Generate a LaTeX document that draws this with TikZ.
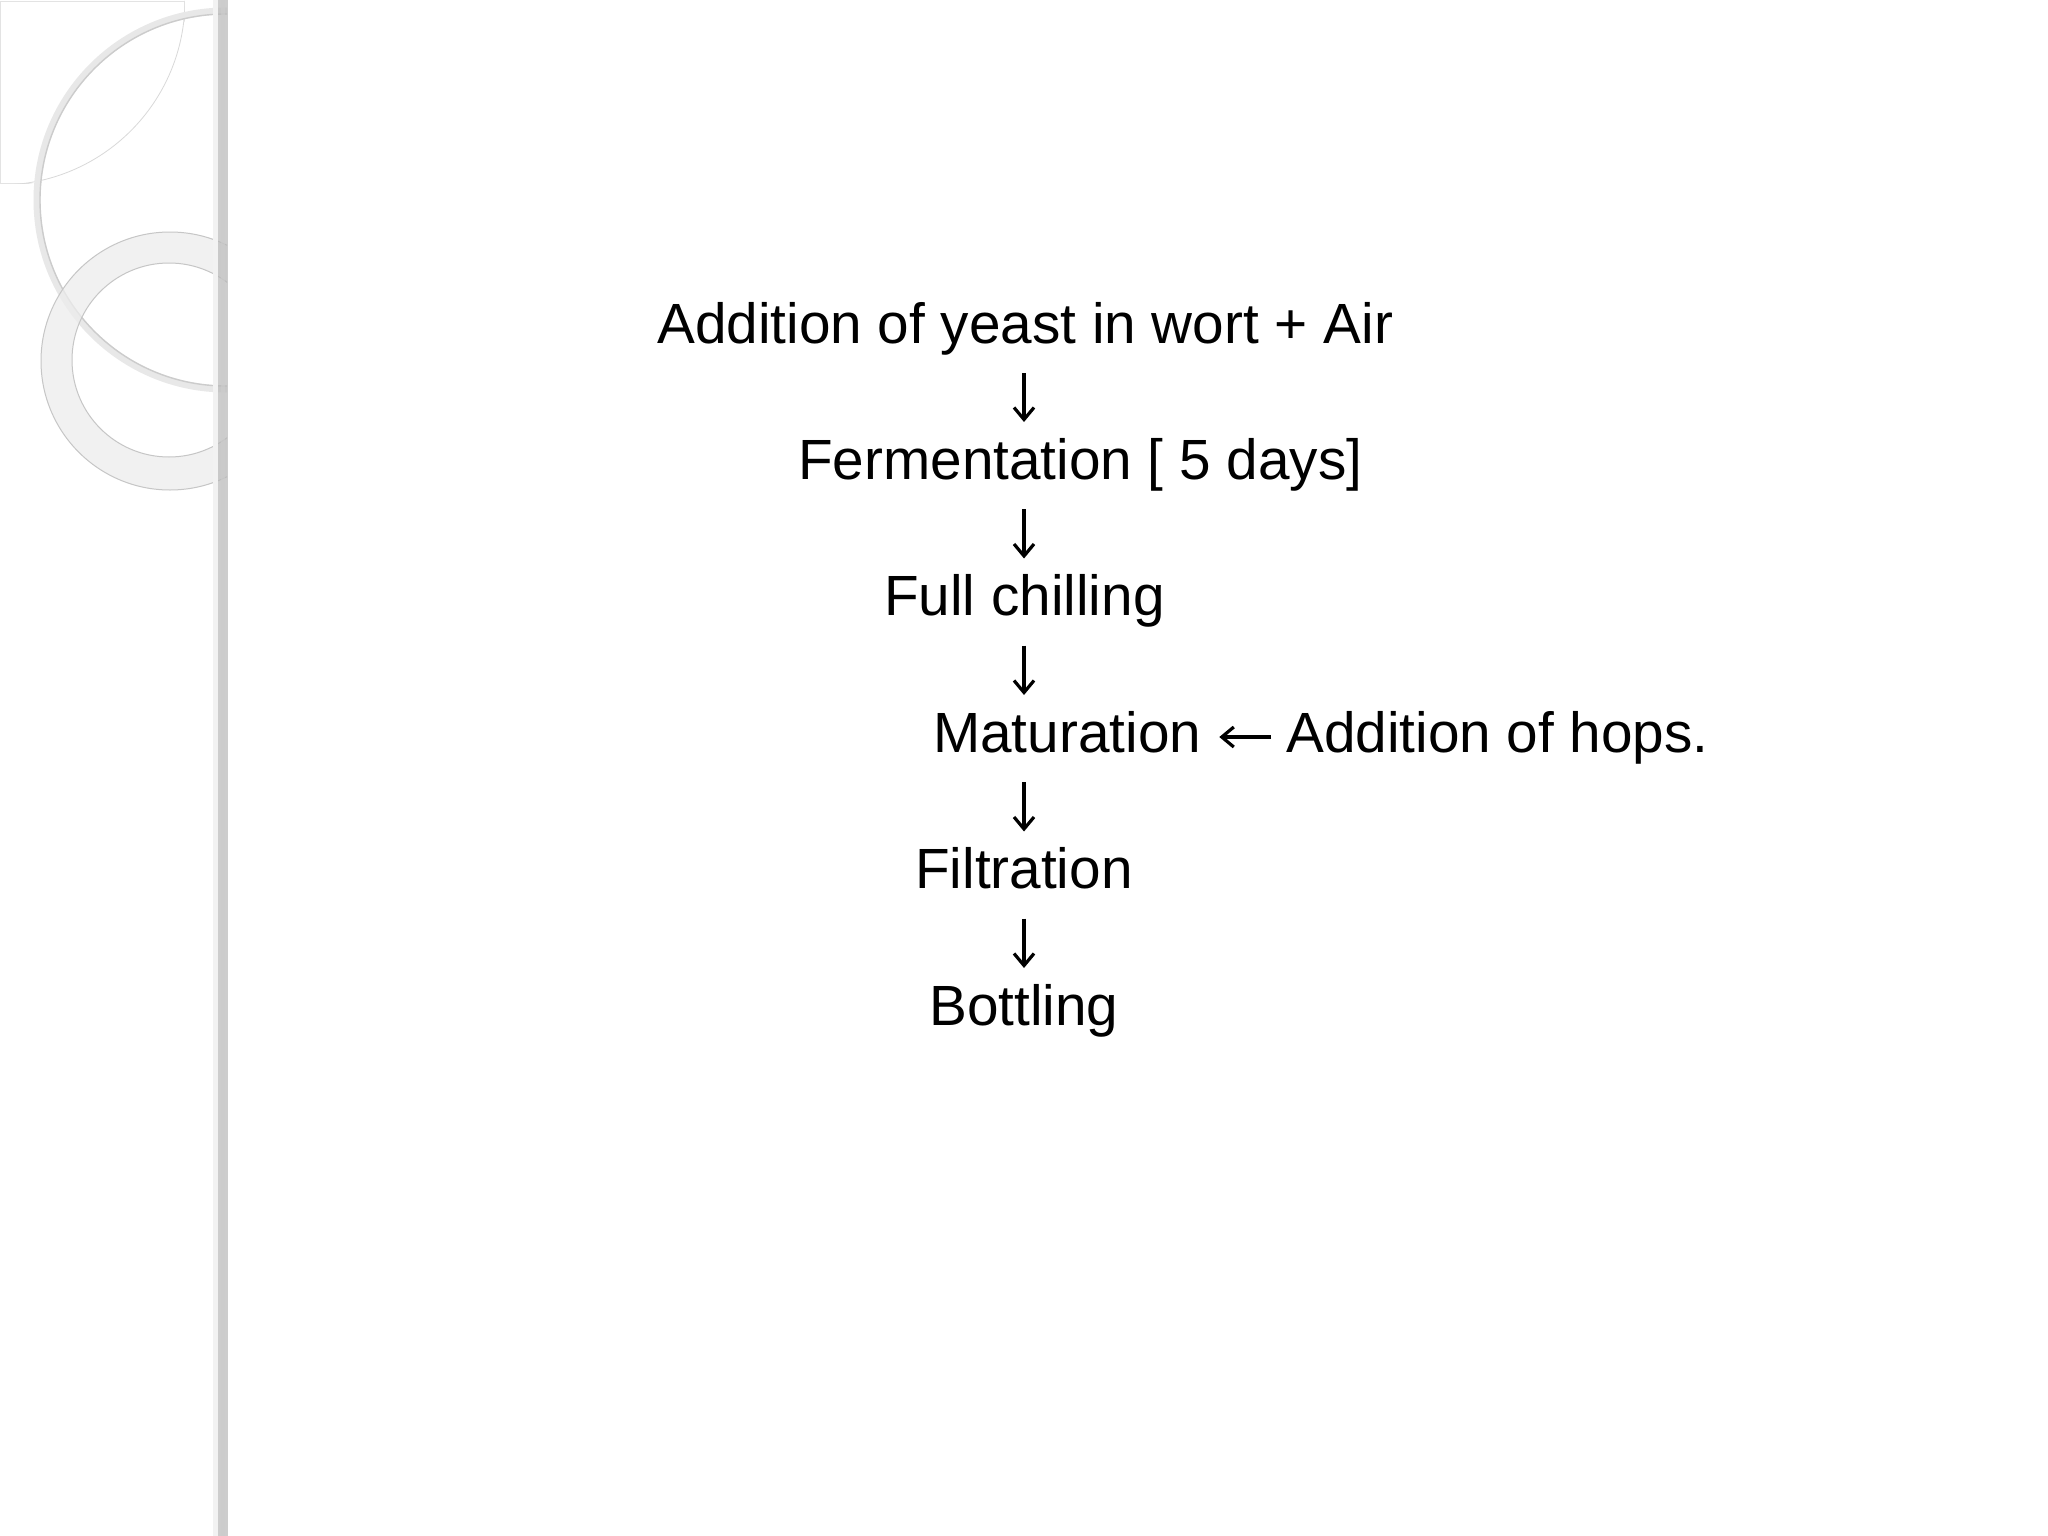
\documentclass[tikz,border=0pt]{standalone}
\usepackage{fontspec}
\setmainfont{Liberation Sans}
\usetikzlibrary{arrows.meta,calc}
\begin{document}
\begin{tikzpicture}[x=1pt,y=-1pt,
  lbl/.style={anchor=base west,inner sep=0pt,font=\fontsize{56.7}{68}\selectfont},
  arr/.style={line width=3.2pt,-{Straight Barb[length=12pt,width=20pt]}}]
\useasboundingbox (0,0) rectangle (2048,1536);
\fill[white] (0,0) rectangle (2048,1536);
% left decoration
\begin{scope}
  \clip (0,0) rectangle (227,1536);
  \begin{scope}
    \clip (0,0) circle[radius=186pt];
    \draw[gray!22,line width=0.8pt] (0,1.5) rectangle (184,183);
  \end{scope}
  \begin{scope}
    \clip (-1,-1) rectangle (184.5,183.5);
    \draw[gray!30,line width=0.8pt] (0,0) circle[radius=185pt];
  \end{scope}
  \draw[gray!18,line width=7pt] (226,200) circle[radius=189pt];
  \draw[gray!40,line width=1.4pt] (226,200) circle[radius=186pt];
  \fill[gray!14,fill opacity=0.75,even odd rule] (170,361) circle[radius=129pt] (169,360) circle[radius=97pt];
  \draw[gray!45,line width=1pt] (170,361) circle[radius=129pt];
  \draw[gray!45,line width=1pt] (169,360) circle[radius=97pt];
\end{scope}
\fill[gray!10] (213,0) rectangle (218,1536);
\fill[gray!55,fill opacity=0.7] (218,0) rectangle (227.5,1536);
\fill[gray!40,fill opacity=0.6] (221,0) rectangle (225,1536);
% flow
\node[lbl] (n1) at (657,343) {Addition of yeast in wort + Air};
\node[lbl] (n2) at (798,479) {Fermentation [ 5 days]};
\node[lbl] (n3) at (884,615.5) {Full chilling};
\node[lbl] (n4) at (933,752) {Maturation};
\node[lbl] (n4b) at (1286,752) {Addition of hops.};
\node[lbl] (n5) at (915,888.5) {Filtration};
\node[lbl] (n6) at (929,1025) {Bottling};
\coordinate (col) at (1024,0);
\draw[arr] ($(n1.base -| col)+(0,30)$) -- ($(n2.base -| col)+(0,-57)$);
\draw[arr] ($(n2.base -| col)+(0,30)$) -- ($(n3.base -| col)+(0,-57)$);
\draw[arr] ($(n3.base -| col)+(0,30)$) -- ($(n4.base -| col)+(0,-57)$);
\draw[arr] ($(n4.base -| col)+(0,30)$) -- ($(n5.base -| col)+(0,-57)$);
\draw[arr] ($(n5.base -| col)+(0,30)$) -- ($(n6.base -| col)+(0,-57)$);
\draw[arr] ($(n4b.base west)+(-15,-15)$) -- ($(n4.base east)+(18,-15)$);
\end{tikzpicture}
\end{document}
